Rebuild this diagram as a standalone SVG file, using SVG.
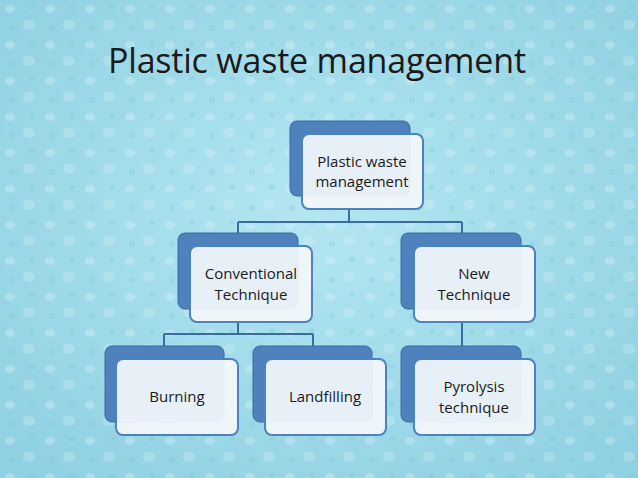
<svg xmlns="http://www.w3.org/2000/svg" width="638" height="478" viewBox="0 0 638 478">
<defs>
<radialGradient id="bg" cx="50%" cy="45%" r="70%"><stop offset="0" stop-color="#b4e6f1"/><stop offset="1" stop-color="#8fd0e2"/></radialGradient>
<pattern id="drops" width="40" height="36" patternUnits="userSpaceOnUse">
<ellipse cx="10" cy="9" rx="5" ry="4" fill="#d8f4fa" opacity="0.35"/><ellipse cx="29" cy="25" rx="6" ry="5" fill="#d8f4fa" opacity="0.3"/><ellipse cx="32" cy="7" rx="3" ry="2.5" fill="#7cc3d6" opacity="0.3"/><ellipse cx="12" cy="28" rx="3" ry="3" fill="#7cc3d6" opacity="0.25"/>
</pattern>
<style>
.b{fill:#4f81bd;stroke:#3c6aa3;stroke-width:1}
.f{fill:#f3f8fb;fill-opacity:0.93;stroke:#4f81bd;stroke-width:2}
.t{font-family:"Open Sans","Liberation Sans",sans-serif;font-size:15px;fill:#1a1a1a;text-anchor:middle}
.c{fill:none;stroke:#3c6aa3;stroke-width:2}
</style>
</defs>
<rect width="638" height="478" fill="url(#bg)"/>
<rect width="638" height="478" fill="url(#drops)"/>
<text x="108" y="73" font-family="Open Sans, Liberation Sans, sans-serif" font-size="34" fill="#1a1a1a" textLength="418">Plastic waste management</text>
<g id="connectors" class="c">
<path class="c" d="M349 209V222M238 222H462M238 222V233M462 222V233"/>
<path class="c" d="M238 322V334M164 334H313M164 334V346M313 334V346"/>
<path class="c" d="M462 322V346"/>
</g>
<g id="n-top"><rect class="b" x="290" y="121" width="120" height="75" rx="7"/><rect class="f" x="302" y="134" width="121" height="75" rx="7"/><text class="t" x="362" y="167">Plastic waste</text><text class="t" x="362" y="187">management</text></g>
<g id="n-conv"><rect class="b" x="178" y="233" width="120" height="76" rx="7"/><rect class="f" x="190" y="246" width="122" height="76" rx="7"/><text class="t" x="251" y="279">Conventional</text><text class="t" x="251" y="300">Technique</text></g>
<g id="n-new"><rect class="b" x="401" y="233" width="120" height="76" rx="7"/><rect class="f" x="414" y="246" width="121" height="76" rx="7"/><text class="t" x="474" y="279">New</text><text class="t" x="474" y="300">Technique</text></g>
<g id="n-burn"><rect class="b" x="105" y="346" width="119" height="76" rx="7"/><rect class="f" x="116" y="359" width="122" height="76" rx="7"/><text class="t" x="177" y="402">Burning</text></g>
<g id="n-land"><rect class="b" x="253" y="346" width="119" height="76" rx="7"/><rect class="f" x="265" y="359" width="121" height="76" rx="7"/><text class="t" x="325" y="402">Landfilling</text></g>
<g id="n-pyro"><rect class="b" x="401" y="346" width="120" height="76" rx="7"/><rect class="f" x="414" y="359" width="121" height="76" rx="7"/><text class="t" x="474" y="392">Pyrolysis</text><text class="t" x="474" y="413">technique</text></g>
</svg>
